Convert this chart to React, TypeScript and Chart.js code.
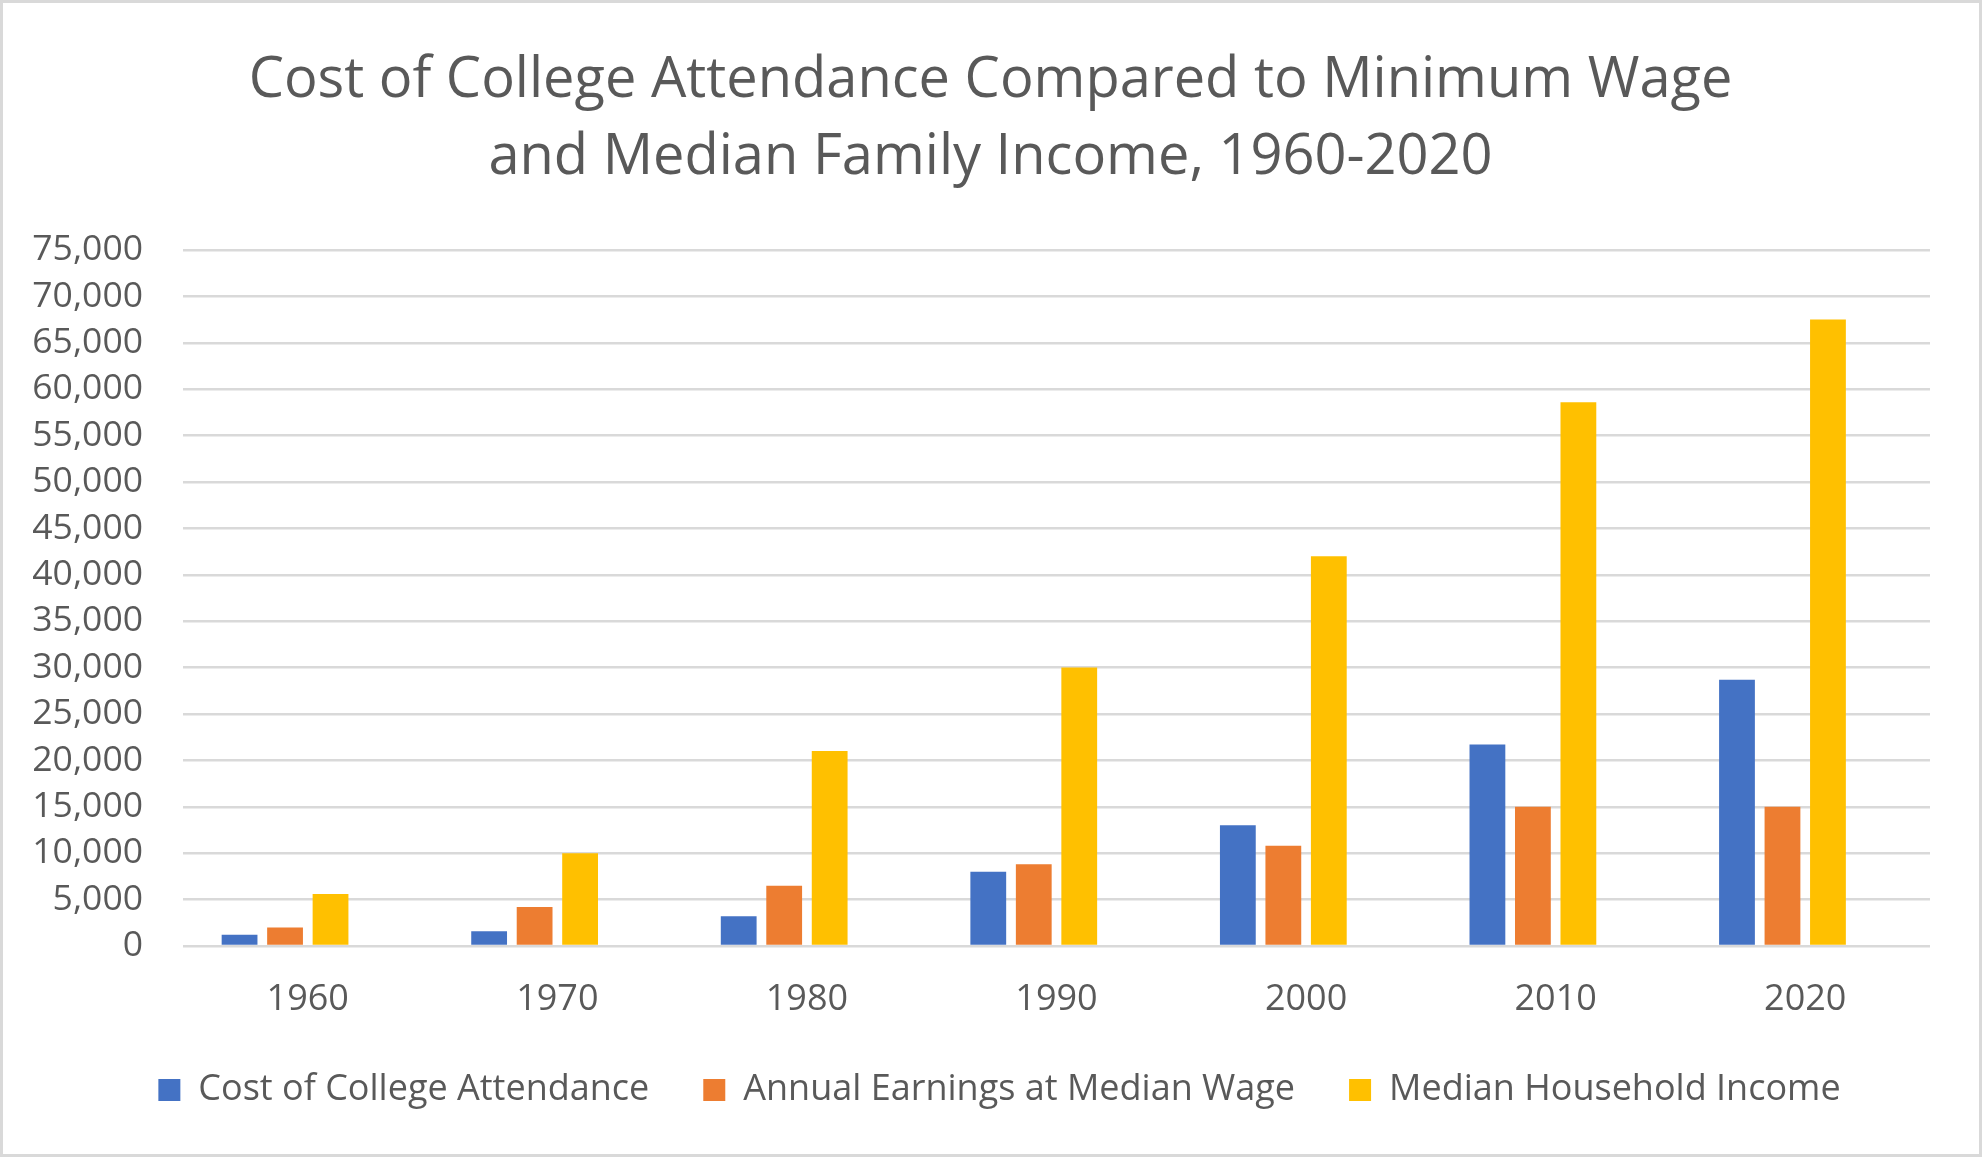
import { useEffect, useRef } from 'react';
import { Chart, registerables } from 'chart.js';

Chart.register(...registerables);

const categories = ['1960', '1970', '1980', '1990', '2000', '2010', '2020'];
const seriesNames = ['Cost of College Attendance', 'Annual Earnings at Median Wage', 'Median Household Income'];
const costOfCollege = [1200, 1600, 3200, 8000, 13000, 21700, 28700];
const annualEarnings = [2000, 4200, 6500, 8800, 10800, 15000, 15000];
const medianIncome = [5600, 10000, 21000, 30000, 42000, 58600, 67500];
const emptySeries = [null, null, null, null, null, null, null];
const seriesColors = ['#4472C4', '#ED7D31', '#FFC000', '#A5A5A5'];
const titleLines = ['Cost of College Attendance Compared to Minimum Wage', 'and Median Family Income, 1960-2020'];
const yMax = 75000;
const yStep = 5000;

const TEXT = '#595959';
const GRID = '#d9d9d9';
const FONT = "'Open Sans', 'Noto Sans', sans-serif";

const boxShift = {
  id: 'boxShift',
  afterLayout(chart: any) {
    if (chart.legend) {
      chart.legend.left += 33;
      chart.legend.right += 33;
    }
    if (chart.titleBlock) {
      chart.titleBlock.left += 24;
      chart.titleBlock.right += 24;
    }
  },
};

export default function App() {
  const ref = useRef<HTMLCanvasElement | null>(null);

  useEffect(() => {
    document.body.style.margin = '0';
    const canvas = ref.current;
    if (!canvas) return;
    const chart = new Chart(canvas, {
      type: 'bar',
      data: {
        labels: categories,
        datasets: [
          { label: seriesNames[0], data: costOfCollege, backgroundColor: seriesColors[0] },
          { label: seriesNames[1], data: annualEarnings, backgroundColor: seriesColors[1] },
          { label: seriesNames[2], data: medianIncome, backgroundColor: seriesColors[2] },
          { label: '', data: emptySeries as any, backgroundColor: seriesColors[3] },
        ],
      },
      options: {
        animation: false,
        responsive: true,
        maintainAspectRatio: false,
        devicePixelRatio: 1,
        font: { family: FONT },
        datasets: {
          bar: { categoryPercentage: 0.729, barPercentage: 0.787, borderWidth: 0 },
        },
        layout: { padding: { left: 0, right: 49, top: 0, bottom: 36 } },
        plugins: {
          title: {
            display: true,
            text: titleLines,
            color: TEXT,
            font: { family: FONT, size: 56, weight: 'normal', lineHeight: 1.375 },
            padding: { top: 40, bottom: 53 },
          },
          legend: {
            position: 'bottom',
            labels: {
              color: TEXT,
              font: { family: FONT, size: 36 },
              boxWidth: 22,
              boxHeight: 22,
              padding: 54,
              filter: (item: any) => item.datasetIndex < 3,
            },
          },
          tooltip: { enabled: false },
        },
        scales: {
          x: {
            grid: { display: false, drawTicks: false },
            border: { display: false },
            ticks: { color: TEXT, font: { family: FONT, size: 36 }, padding: 32 },
            afterFit: (scale: any) => {
              scale.height = 72;
            },
          },
          y: {
            min: 0,
            max: yMax,
            grid: { color: GRID, lineWidth: 2.5, drawTicks: false },
            border: { display: false },
            ticks: {
              stepSize: yStep,
              autoSkip: false,
              color: TEXT,
              font: { family: FONT, size: 35.5 },
              padding: 40,
              callback: (v: any) => Number(v).toLocaleString('en-US'),
            },
            afterFit: (scale: any) => {
              scale.width = 180;
            },
          },
        },
      },
      plugins: [boxShift],
    });
    return () => chart.destroy();
  }, []);

  return (
    <div
      style={{
        width: 1982,
        height: 1157,
        boxSizing: 'border-box',
        border: '3px solid #d9d9d9',
        background: '#ffffff',
      }}
    >
      <div style={{ position: 'relative', width: 1976, height: 1151 }}>
        <canvas ref={ref} />
      </div>
    </div>
  );
}
